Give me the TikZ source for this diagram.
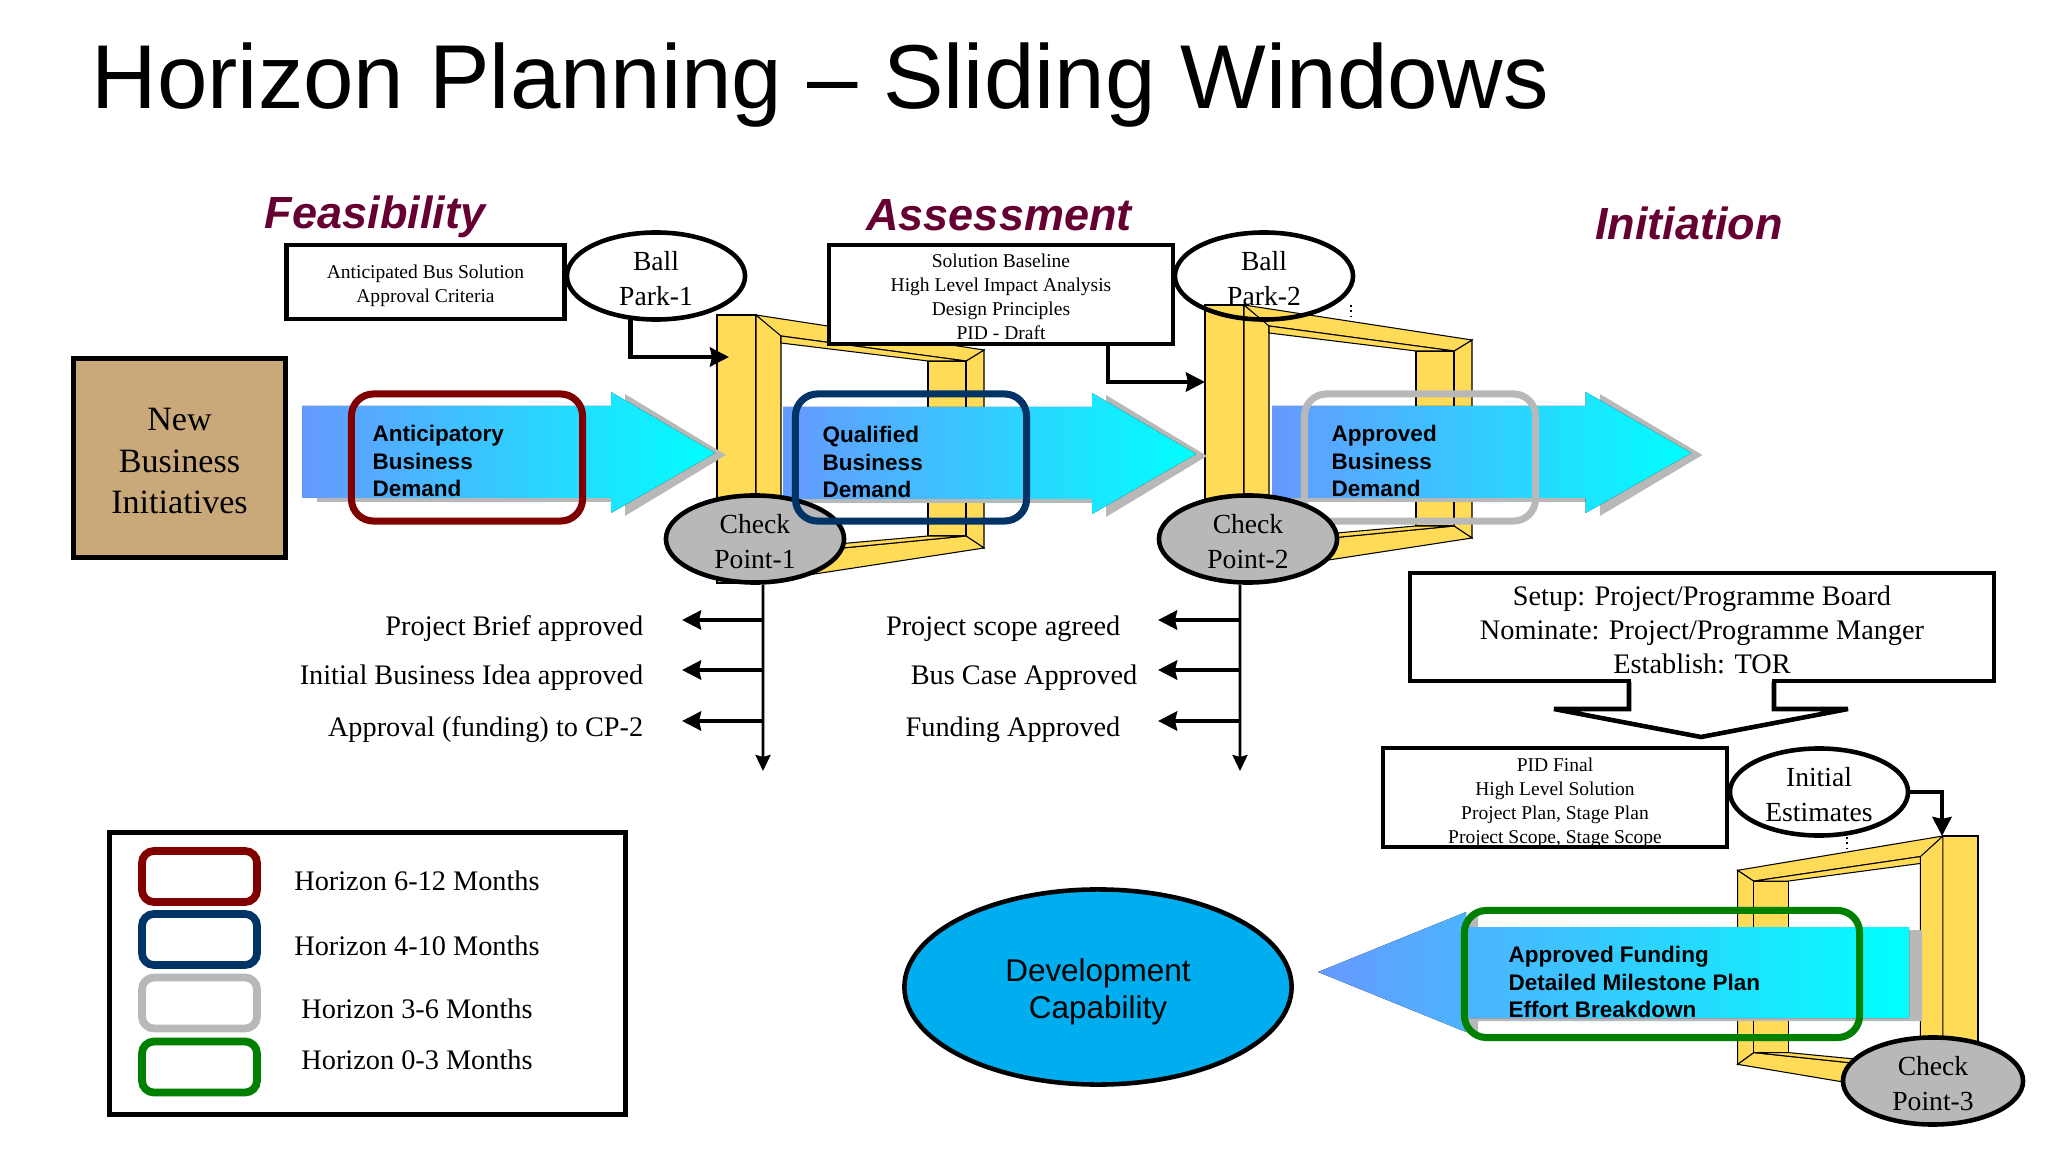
\documentclass[tikz,border=0pt]{standalone}
\usepackage{fontspec}
\setmainfont{Liberation Serif}
\setsansfont{Liberation Sans}
\usetikzlibrary{arrows.meta,shapes.geometric}
\definecolor{framecolor}{HTML}{FFDB58}
\definecolor{shadecolor}{HTML}{B8B8B8}
\definecolor{headcolor}{HTML}{660033}
\definecolor{tancolor}{HTML}{C9A87A}
\definecolor{startcolor}{HTML}{6699FF}
\definecolor{endcolor}{HTML}{00FFFF}
\definecolor{redcolor}{HTML}{800000}
\definecolor{bluecolor}{HTML}{003366}
\definecolor{greycolor}{HTML}{B8B8B8}
\definecolor{greencolor}{HTML}{008000}
\definecolor{capcolor}{HTML}{00AEEF}
\newcommand{\smalltext}{\fontsize{5.55}{6.8}\selectfont}
\newcommand{\bodytext}{\fontsize{7.85}{10}\selectfont}
\newcommand{\listtext}{\fontsize{8.05}{9.7}\selectfont}
\newcommand{\windowframe}{
  \draw[part] (0,0) -- (39,0) -- (39,268) -- (0,268) -- cycle;
  \draw[part] (39,0) -- (64,20) -- (64,240) -- (39,268) -- cycle;
  \draw[part] (249,46) -- (267,35) -- (267,233) -- (249,221) -- cycle;
  \draw[part] (211,46) -- (249,46) -- (249,221) -- (211,221) -- cycle;
  \draw[part] (39,0) -- (267,35) -- (249,46) -- (64,21) -- cycle;
  \draw[part] (64,21) -- (249,46) -- (211,46) -- (64,28) -- cycle;
  \draw[part] (249,221) -- (267,233) -- (39,268) -- (64,239) -- cycle;
  \draw[part] (211,221) -- (249,221) -- (64,239) -- (64,234) -- cycle;
}
\newcommand{\flowarrow}{
  \fill[shadecolor] (15,4) rectangle (323,96);
  \fill[shadecolor] (323,-12) -- (424,49) -- (323,110) -- cycle;
  \fill[left color=startcolor,right color=endcolor] (0,0) -- (309,0) -- (309,-14)
    -- (413,47) -- (309,107) -- (309,92) -- (0,92) -- cycle;
}

\begin{document}
\begin{tikzpicture}[x=.01cm,y=-.01cm,>={Stealth[length=.16cm,width=.15cm,inset=.02cm]},auto]
  \tikzstyle{part}=[fill=framecolor,draw=black,line width=.3pt]
  \tikzstyle{heading}=[font=\sffamily\bfseries\itshape\fontsize{12.8}{15}\selectfont,text=headcolor]
  \tikzstyle{whitebox}=[draw=black,fill=white,line width=1.3pt,inner sep=0,align=center,font=\smalltext]
  \tikzstyle{roundtext}=[align=center,inner sep=0,font=\bodytext,yshift=-.025cm]
  \tikzstyle{ball}=[ellipse,draw=black,line width=1.3pt,inner sep=0,minimum width=1.78cm,minimum height=.87cm]
  \tikzstyle{window}=[draw,rounded corners=.22cm,line width=2pt,minimum width=2.31cm,minimum height=1.27cm]
  \tikzstyle{legend}=[draw,fill=white,rounded corners=.12cm,line width=2.2pt,minimum width=1.15cm,minimum height=.51cm]
  \tikzstyle{flowtext}=[anchor=west,align=left,inner sep=0,font=\sffamily\bfseries\fontsize{6.4}{7.7}\selectfont]
  \tikzstyle{plain}=[inner sep=0,font=\listtext]
  \tikzstyle{link}=[-{Stealth[length=.19cm,width=.19cm,inset=.02cm]},line width=1.2pt]
  \tikzstyle{down}=[->,line width=.8pt]
  \useasboundingbox (0,0) rectangle (2048,1152);

  \node[anchor=base west,inner sep=0,font=\sffamily\fontsize{25.8}{30}\selectfont] (title) at (91,109)
    {Horizon Planning -- Sliding Windows};
  \node[heading] (feas) at (375,217) {Feasibility};
  \node[heading] (asse) at (999,215) {Assessment};
  \node[heading] (init) at (1689,223) {Initiation};

  \node[draw=black,fill=tancolor,line width=1.4pt,minimum width=2.11cm,minimum height=1.98cm,
        inner sep=0,label={[align=center,inner sep=0,yshift=-.03cm,
        font=\fontsize{9.7}{11.7}\selectfont]center:New\\Business\\Initiatives}] (newbus) at (179.5,458) {};

  % frames
  \begin{scope}[shift={(717,315)}] \windowframe \end{scope}
  \begin{scope}[shift={(1205,305)}] \windowframe \end{scope}
  \begin{scope}[shift={(1978,836)},xscale=-.9,yscale=.98] \windowframe \end{scope}

  % big arrows
  \begin{scope}[shift={(302,406)}] \flowarrow \end{scope}
  \begin{scope}[shift={(783,407)}] \flowarrow \end{scope}
  \begin{scope}[shift={(1272,406)},xscale=1.015] \flowarrow \end{scope}
  \fill[shadecolor] (1330,975) -- (1478,915) -- (1478,930) -- (1922,930) -- (1922,1021)
    -- (1478,1021) -- (1478,1035) -- cycle;
  \fill[left color=startcolor,right color=endcolor] (1318,972) -- (1466,912) -- (1466,927)
    -- (1909,927) -- (1909,1018) -- (1466,1018) -- (1466,1032) -- cycle;

  \node[whitebox,minimum width=2.78cm,minimum height=.74cm,
        label={[align=center,inner sep=0,font=\smalltext,yshift=-.035cm]center:Anticipated Bus Solution\\Approval Criteria}]
        (antbox) at (425.5,282) {};
  \draw[densely dotted,line width=.5pt] (861,315) -- (861,330);
  \node[whitebox,minimum width=3.44cm,minimum height=.99cm,
        label={[align=center,inner sep=0,font=\smalltext,yshift=-.02cm]center:Solution Baseline\\High Level Impact Analysis\\Design Principles\\PID - Draft}]
        (solbox) at (1001,294.5) {};
  \draw[densely dotted,line width=.5pt] (1351,305) -- (1351,320);
  \draw[densely dotted,line width=.5pt] (1847,837) -- (1847,850);

  \node[ball,label={[roundtext]center:Ball\\Park-1}] (ballone) at (656,276) {};
  \node[ball,label={[roundtext]center:Ball\\Park-2}] (balltwo) at (1264,276) {};
  \node[ball,fill=shadecolor,label={[roundtext]center:Check\\Point-1}] (chkone) at (755,539) {};

  \node[window,draw=redcolor] (redwin) at (467,457.5) {};
  \node[window,draw=bluecolor] (bluewin) at (911,457.5) {};
  \node[window,draw=greycolor] (greywin) at (1420,457.5) {};
  \node[ball,fill=shadecolor,label={[roundtext]center:Check\\Point-2}] (chktwo) at (1248,539) {};

  \node[flowtext] (antxt) at (372,461) {Anticipatory\\Business\\Demand};
  \node[flowtext] (qutxt) at (822,462) {Qualified\\Business\\Demand};
  \node[flowtext] (aptxt) at (1331,461) {Approved\\Business\\Demand};

  % connectors of the upper row
  \coordinate (tipone) at (729,357);
  \coordinate (tiptwo) at (1205,382);
  \draw[link] (ballone.240) |- (tipone);
  \draw[link] ([xshift=1.07cm]solbox.south) |- (tiptwo);

  % first check point
  \coordinate (endone) at (763,771);
  \coordinate (tapa) at (763,620);
  \coordinate (tapb) at (763,670);
  \coordinate (tapc) at (763,721);
  \coordinate (lefta) at (682,620);
  \coordinate (leftb) at (682,670);
  \coordinate (leftc) at (682,721);
  \draw[down] ([xshift=.08cm]chkone.south) -- (endone);
  \path[link] (tapa) edge (lefta)
              (tapb) edge (leftb)
              (tapc) edge (leftc);
  \node[plain,anchor=east] (briefok) at (644,629) {Project Brief approved};
  \node[plain,anchor=east] (ideaok) at (644,678) {Initial Business Idea approved};
  \node[plain,anchor=east] (fundok) at (644,730) {Approval (funding) to CP-2};

  % second check point
  \coordinate (endtwo) at (1240,771);
  \coordinate (tapd) at (1240,620);
  \coordinate (tape) at (1240,670);
  \coordinate (tapf) at (1240,721);
  \coordinate (leftd) at (1158,620);
  \coordinate (lefte) at (1158,670);
  \coordinate (leftf) at (1158,721);
  \draw[down] ([xshift=-.08cm]chktwo.south) -- (endtwo);
  \path[link] (tapd) edge (leftd)
              (tape) edge (lefte)
              (tapf) edge (leftf);
  \node[plain,anchor=east] (scopeok) at (1121,629) {Project scope agreed};
  \node[plain,anchor=east] (caseok) at (1138,678) {Bus Case Approved};
  \node[plain,anchor=east] (fundsok) at (1121,730) {Funding Approved};

  % initiation
  \node[whitebox,minimum width=5.84cm,minimum height=1.08cm,
        label={[align=center,inner sep=0,font=\listtext,yshift=-.03cm]center:Setup: Project/Programme Board\\Nominate: Project/Programme Manger\\Establish: TOR}]
        (setup) at (1702,627) {};
  \fill[white] (1631,677) rectangle (1772,686);
  \draw[line width=1.3pt] (1629,682) -- (1629,709) -- (1554,709) -- (1701,737)
    -- (1848,709) -- (1774,709) -- (1774,682);
  \node[whitebox,minimum width=3.44cm,minimum height=.99cm,
        label={[align=center,inner sep=0,font=\smalltext,yshift=-.05cm]center:PID Final\\High Level Solution\\Project Plan, Stage Plan\\Project Scope, Stage Scope}]
        (pidbox) at (1555,797.5) {};
  \node[ball,label={[roundtext]center:Initial\\Estimates}] (estim) at (1819,792) {};
  \coordinate (tipthree) at (1942,836);
  \draw[link] (estim.east) -| (tipthree);

  \node[window,draw=greencolor,minimum width=3.95cm,minimum height=1.27cm] (greenwin) at (1662,974) {};
  \node[flowtext] (fundtxt) at (1508,982) {Approved Funding\\Detailed Milestone Plan\\Effort Breakdown};
  \node[ball,fill=shadecolor,minimum width=1.8cm,label={[roundtext]center:Check\\Point-3}] (chkthree) at (1933,1081) {};

  \node[ball,fill=capcolor,minimum width=3.87cm,minimum height=1.95cm,
        label={[align=center,inner sep=0,yshift=-.05cm,
        font=\sffamily\fontsize{8.95}{10.5}\selectfont]center:Development\\Capability}] (devcap) at (1098,987) {};

  % legend
  \node[draw=black,line width=1.3pt,minimum width=5.16cm,minimum height=2.82cm] (legbox) at (367.5,973.5) {};
  \node[legend,draw=redcolor] (legred) at (199.5,876.5) {};
  \node[legend,draw=bluecolor] (legblue) at (199.5,939.5) {};
  \node[legend,draw=greycolor] (leggrey) at (199.5,1003) {};
  \node[legend,draw=greencolor] (leggreen) at (199.5,1067) {};
  \node[plain] (txtred) at (417,881) {Horizon 6-12 Months};
  \node[plain] (txtblue) at (417,946) {Horizon 4-10 Months};
  \node[plain] (txtgrey) at (417,1009) {Horizon 3-6 Months};
  \node[plain] (txtgreen) at (417,1060) {Horizon 0-3 Months};
\end{tikzpicture}
\end{document}
